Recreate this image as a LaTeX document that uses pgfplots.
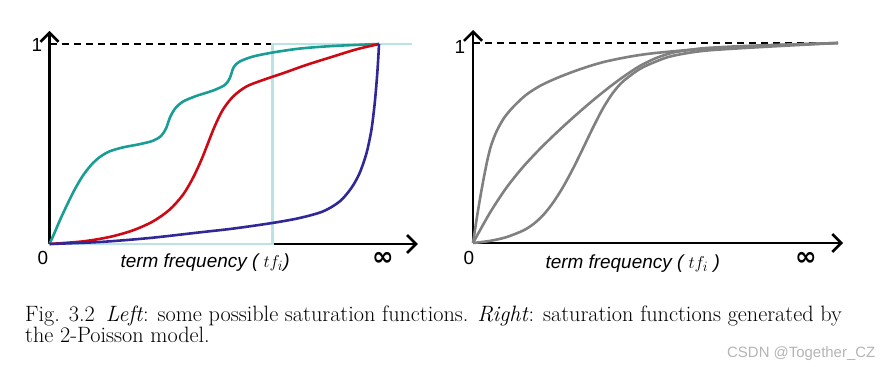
\documentclass[border=0pt]{standalone}
\usepackage{fontspec}
\usepackage{pgfplots}
\pgfplotsset{compat=1.18}
\usetikzlibrary{arrows.meta}
\newfontfamily\arial{Liberation Sans}
\newfontfamily\dejavu{DejaVu Sans}
\definecolor{tealc}{RGB}{26,158,148}
\definecolor{redc}{RGB}{204,10,20}
\definecolor{bluec}{RGB}{48,40,150}
\definecolor{cyanl}{RGB}{184,228,230}
\definecolor{grayc}{RGB}{128,128,128}
\definecolor{wmark}{RGB}{180,180,180}
\pgfplotsset{
  sketchaxis/.style={
    axis lines=left,
    axis line style={line width=2.6bp,-{Straight Barb[length=9bp,width=18bp]}},
    xtick=\empty, ytick=\empty, clip=false,
    every axis plot/.append style={line width=2.6bp, no marks},
  }
}
\begin{document}
\begin{tikzpicture}[x=1bp,y=1bp]
\useasboundingbox (0,0) rectangle (884,366);
% ---------- left panel ----------
\begin{axis}[sketchaxis, at={(49.5bp,122bp)}, anchor=origin,
  x=329.5bp, y=200bp, xmin=0, xmax=1.118, ymin=0, ymax=1.065]
\addplot[black, line width=1.3bp, dash pattern=on 7bp off 5bp] coordinates {(0,1) (0.676,1)};
\addplot[cyanl, line width=2.8bp] coordinates {(0,0) (0.676,0) (0.676,1) (1.10,1)};
\addplot[tealc, smooth] coordinates {
(0,0) (0.015,0.055) (0.030,0.113) (0.051,0.188) (0.076,0.271) (0.101,0.341)
(0.127,0.396) (0.152,0.434) (0.182,0.463) (0.223,0.483) (0.273,0.499)
(0.314,0.516) (0.339,0.541) (0.354,0.579) (0.366,0.634) (0.382,0.679)
(0.405,0.712) (0.445,0.740) (0.496,0.767) (0.532,0.795) (0.547,0.829)
(0.559,0.884) (0.577,0.912) (0.617,0.937) (0.676,0.957) (0.759,0.977)
(0.860,0.990) (1,1)};
\addplot[redc, smooth] coordinates {
(0,0) (0.101,0.013) (0.182,0.035) (0.253,0.068) (0.314,0.113) (0.364,0.171)
(0.405,0.246) (0.435,0.329) (0.461,0.421) (0.481,0.504) (0.501,0.587)
(0.526,0.671) (0.557,0.737) (0.597,0.787) (0.648,0.820) (0.709,0.854)
(0.779,0.895) (0.860,0.937) (0.931,0.973) (1,1)};
\addplot[bluec, smooth] coordinates {
(0,0) (0.152,0.010) (0.304,0.030) (0.455,0.058) (0.557,0.077) (0.676,0.105)
(0.759,0.130) (0.830,0.163) (0.881,0.213) (0.916,0.280) (0.941,0.354)
(0.962,0.454) (0.977,0.571) (0.987,0.704) (0.994,0.837) (0.998,0.937) (1,1)};
\end{axis}
% ---------- right panel ----------
\begin{axis}[sketchaxis, at={(473bp,123bp)}, anchor=origin,
  x=365bp, y=200bp, xmin=0, xmax=1.014, ymin=0, ymax=1.065]
\addplot[black, line width=1.3bp, dash pattern=on 7bp off 5bp] coordinates {(0,1) (1,1)};
\addplot[grayc, smooth] coordinates {
(0,0) (0.01,0.12) (0.02,0.23) (0.03,0.33) (0.04,0.42) (0.05,0.49)
(0.065,0.56) (0.085,0.625) (0.11,0.68) (0.145,0.74) (0.185,0.787)
(0.23,0.825) (0.275,0.857) (0.32,0.885) (0.365,0.908) (0.43,0.932)
(0.5,0.95) (0.64,0.972) (0.82,0.988) (1,1)};
\addplot[grayc, smooth] coordinates {
(0,0) (0.046,0.15) (0.091,0.275) (0.137,0.38) (0.183,0.47) (0.228,0.55)
(0.274,0.627) (0.32,0.70) (0.365,0.767) (0.411,0.83) (0.457,0.885)
(0.502,0.925) (0.548,0.952) (0.6,0.967) (0.639,0.975) (0.73,0.984)
(0.822,0.99) (1,1)};
\addplot[grayc, smooth] coordinates {
(0,0) (0.046,0.0104) (0.091,0.029) (0.137,0.062) (0.165,0.094) (0.192,0.139)
(0.219,0.201) (0.246,0.278) (0.274,0.372) (0.301,0.472) (0.329,0.578)
(0.356,0.673) (0.383,0.750) (0.411,0.808) (0.457,0.870) (0.502,0.908)
(0.548,0.936) (0.639,0.962) (0.822,0.983) (1,1)};
\end{axis}
% ---------- labels ----------
\node[font=\arial\fontsize{19}{19}\selectfont] at (37,321) {1};
\node[font=\arial\fontsize{19}{19}\selectfont] at (43,108) {0};
\node[font=\dejavu\bfseries\fontsize{26}{26}\selectfont] at (383,107) {∞};
\node[anchor=base west, font=\arial\itshape\fontsize{19}{19}\selectfont] at (117,99) {term frequency ( $tf_i$)};
\node[font=\arial\fontsize{19}{19}\selectfont] at (460,319) {1};
\node[font=\arial\fontsize{19}{19}\selectfont] at (469,108) {0};
\node[font=\dejavu\bfseries\fontsize{26}{26}\selectfont] at (806,107) {∞};
\node[anchor=base west, font=\arial\itshape\fontsize{19}{19}\selectfont] at (542,98) {term frequency ( $tf_i$ )};
% ---------- caption ----------
\node[anchor=base west, inner sep=0pt, font=\fontsize{22.3}{24}\selectfont] at (25,45)
  {Fig. 3.2\enspace \textit{Left}: some possible saturation functions. \textit{Right}: saturation functions generated by};
\node[anchor=base west, inner sep=0pt, font=\fontsize{22.3}{24}\selectfont] at (25,24)
  {the 2-Poisson model.};
\node[anchor=base west, inner sep=0pt, text=wmark, font=\arial\fontsize{15}{15}\selectfont] at (727,9)
  {CSDN @Together\_CZ};
\end{tikzpicture}
\end{document}
